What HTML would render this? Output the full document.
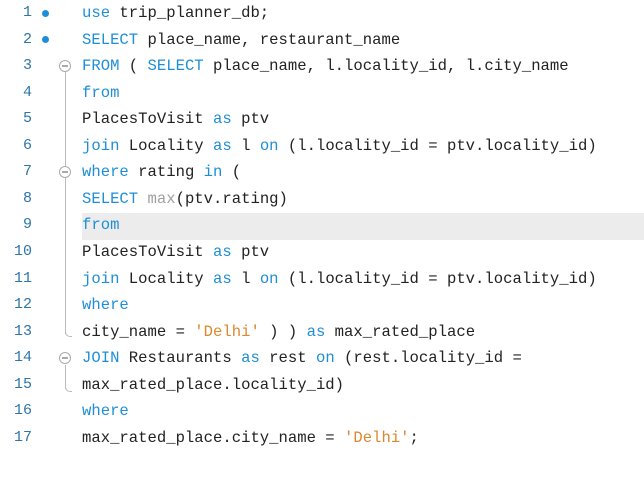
<!DOCTYPE html>
<html><head><style>
body{margin:0;width:644px;height:494px;background:#fff;overflow:hidden;position:relative;font-family:"Liberation Mono",monospace;font-size:15.6px;}
.l{position:absolute;left:0;width:644px;height:26.56px;line-height:26.56px;}
.n{position:absolute;right:612px;color:#2e75a8;font-size:15px;}
.c{position:absolute;left:82px;color:#222;white-space:pre;}
.k{color:#1e8fd6}.s{color:#d9892e}.g{color:#a0a0a0}
.dot{position:absolute;left:42px;width:7px;height:7px;border-radius:50%;background:#1e8fd6;top:9.5px}
.hl{position:absolute;left:82px;width:562px;top:213px;height:27px;background:#ececec}
.fi{position:absolute;left:59px;width:10px;height:10px;border:1.3px solid #aaa;border-radius:50%;background:#fff;z-index:2}
.fi:after{content:"";position:absolute;left:2px;top:4.3px;width:6px;height:1.3px;background:#aaa}
.vl{position:absolute;left:65px;border-left:1.3px solid #bbb;}
.cr{position:absolute;left:65px;width:6px;height:6px;border-left:1.3px solid #bbb;border-bottom:1.3px solid #bbb;border-bottom-left-radius:5px}
</style></head><body>
<div class="hl"></div>
<div class="vl" style="top:72px;height:262px"></div><div class="cr" style="top:330px"></div>
<div class="vl" style="top:365px;height:24px"></div><div class="cr" style="top:385px"></div>
<div class="fi" style="top:60px"></div>
<div class="fi" style="top:166px"></div>
<div class="fi" style="top:352px"></div>
<div class="l" style="top:0px"><span class="n">1</span><span class="dot"></span><span class="c"><span class="k">use</span> trip_planner_db;</span></div>
<div class="l" style="top:26.56px"><span class="n">2</span><span class="dot"></span><span class="c"><span class="k">SELECT</span> place_name, restaurant_name</span></div>
<div class="l" style="top:53.12px"><span class="n">3</span><span class="c"><span class="k">FROM</span> ( <span class="k">SELECT</span> place_name, l.locality_id, l.city_name</span></div>
<div class="l" style="top:79.68px"><span class="n">4</span><span class="c"><span class="k">from</span></span></div>
<div class="l" style="top:106.24px"><span class="n">5</span><span class="c">PlacesToVisit <span class="k">as</span> ptv</span></div>
<div class="l" style="top:132.8px"><span class="n">6</span><span class="c"><span class="k">join</span> Locality <span class="k">as</span> l <span class="k">on</span> (l.locality_id = ptv.locality_id)</span></div>
<div class="l" style="top:159.36px"><span class="n">7</span><span class="c"><span class="k">where</span> rating <span class="k">in</span> (</span></div>
<div class="l" style="top:185.92px"><span class="n">8</span><span class="c"><span class="k">SELECT</span> <span class="g">max</span>(ptv.rating)</span></div>
<div class="l" style="top:212.48px"><span class="n">9</span><span class="c"><span class="k">from</span></span></div>
<div class="l" style="top:239.04px"><span class="n">10</span><span class="c">PlacesToVisit <span class="k">as</span> ptv</span></div>
<div class="l" style="top:265.6px"><span class="n">11</span><span class="c"><span class="k">join</span> Locality <span class="k">as</span> l <span class="k">on</span> (l.locality_id = ptv.locality_id)</span></div>
<div class="l" style="top:292.16px"><span class="n">12</span><span class="c"><span class="k">where</span></span></div>
<div class="l" style="top:318.72px"><span class="n">13</span><span class="c">city_name = <span class="s">'Delhi'</span> ) ) <span class="k">as</span> max_rated_place</span></div>
<div class="l" style="top:345.28px"><span class="n">14</span><span class="c"><span class="k">JOIN</span> Restaurants <span class="k">as</span> rest <span class="k">on</span> (rest.locality_id =</span></div>
<div class="l" style="top:371.84px"><span class="n">15</span><span class="c">max_rated_place.locality_id)</span></div>
<div class="l" style="top:398.4px"><span class="n">16</span><span class="c"><span class="k">where</span></span></div>
<div class="l" style="top:424.96px"><span class="n">17</span><span class="c">max_rated_place.city_name = <span class="s">'Delhi'</span>;</span></div>
</body></html>
